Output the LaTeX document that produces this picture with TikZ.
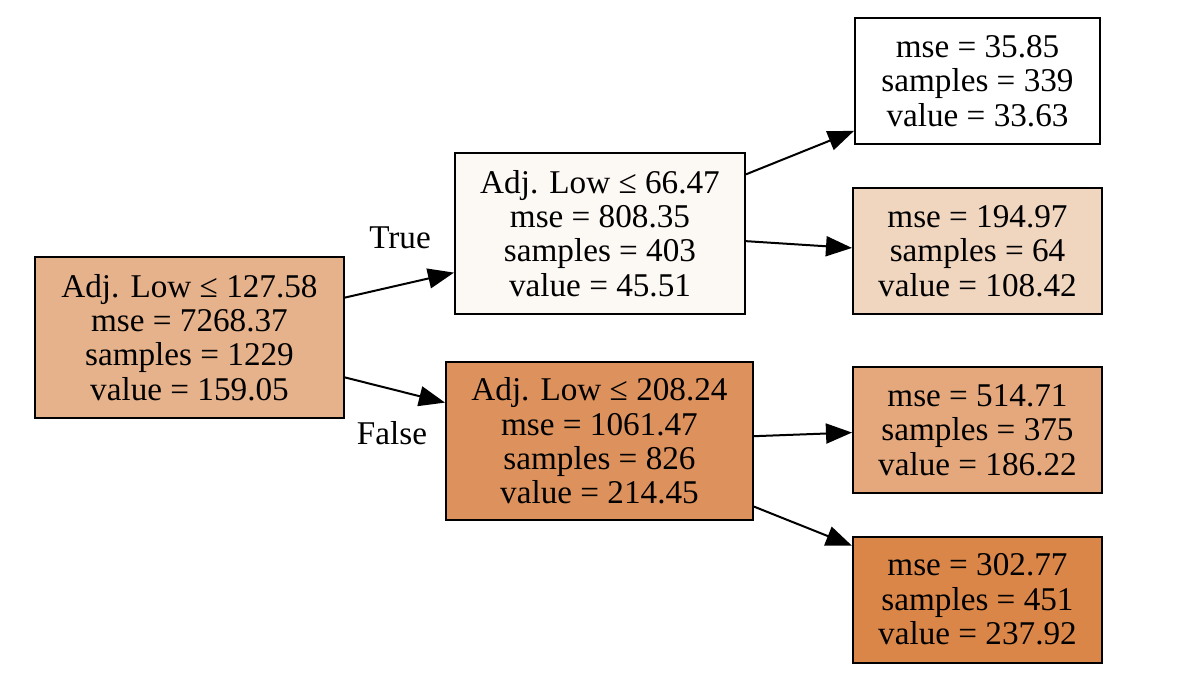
\documentclass[tikz,border=0pt]{standalone}
\usepackage{fontspec}
\setmainfont{Liberation Serif}
\usepackage{xcolor}
\usetikzlibrary{arrows.meta,calc}
\definecolor{Ink}{HTML}{000000}
\definecolor{RootFill}{HTML}{E6B28B}
\definecolor{TrueFill}{HTML}{FCF8F4}
\definecolor{FalseFill}{HTML}{DD925D}
\definecolor{LeafA}{HTML}{FFFFFF}
\definecolor{LeafB}{HTML}{F0D5BF}
\definecolor{LeafC}{HTML}{E4A87C}
\definecolor{LeafD}{HTML}{DA8649}
\tikzset{
  split/.style={draw=Ink,line width=1pt,align=center,font=\fontsize{16.6}{17.2}\selectfont,text=Ink,inner sep=0pt},
  leaf/.style={split,minimum width=124.5pt,minimum height=63pt},
  arr/.style={-{Triangle[length=13pt,width=10pt]},draw=Ink,line width=1pt},
  branch/.style={font=\fontsize{16.6}{17.2}\selectfont,text=Ink}
}

\begin{document}
\begin{tikzpicture}[x=0.5pt,y=-0.5pt]
  \useasboundingbox (0,0) rectangle (1200,690);
  \node[split,fill=RootFill,minimum width=154.5pt,minimum height=80.5pt] (root) at (189.5,337.5)
    {Adj. Low ≤ 127.58\\mse = 7268.37\\samples = 1229\\value = 159.05};
  \node[split,fill=TrueFill,minimum width=145pt,minimum height=80.5pt] (left) at (600,233.5)
    {Adj. Low ≤ 66.47\\mse = 808.35\\samples = 403\\value = 45.51};
  \node[split,fill=FalseFill,minimum width=153.5pt,minimum height=79pt] (right) at (599.5,441)
    {Adj. Low ≤ 208.24\\mse = 1061.47\\samples = 826\\value = 214.45};
  \node[leaf,fill=LeafA,minimum width=122.5pt] (ll) at (977.5,81) {mse = 35.85\\samples = 339\\value = 33.63};
  \node[leaf,fill=LeafB] (lr) at (977.5,251) {mse = 194.97\\samples = 64\\value = 108.42};
  \node[leaf,fill=LeafC] (rl) at (977.5,430) {mse = 514.71\\samples = 375\\value = 186.22};
  \node[leaf,fill=LeafD] (rr) at (977.5,599.5) {mse = 302.77\\samples = 451\\value = 237.92};
  \node[branch] (truelbl) at (400,238) {True};
  \node[branch] (falselbl) at (392,433) {False};
  % edges between box sides
  \draw[arr] ($(root.north east)!0.255!(root.south east)$) -- ($(left.north west)!0.74!(left.south west)$);
  \draw[arr] ($(root.north east)!0.745!(root.south east)$) -- ($(right.north west)!0.26!(right.south west)$);
  \draw[arr] ($(left.north east)!0.137!(left.south east)$) -- ($(ll.north west)!0.89!(ll.south west)$);
  \draw[arr] ($(left.north east)!0.547!(left.south east)$) -- ($(lr.north west)!0.476!(lr.south west)$);
  \draw[arr] ($(right.north east)!0.47!(right.south east)$) -- ($(rl.north west)!0.52!(rl.south west)$);
  \draw[arr] ($(right.north east)!0.91!(right.south east)$) -- ($(rr.north west)!0.08!(rr.south west)$);
\end{tikzpicture}
\end{document}
